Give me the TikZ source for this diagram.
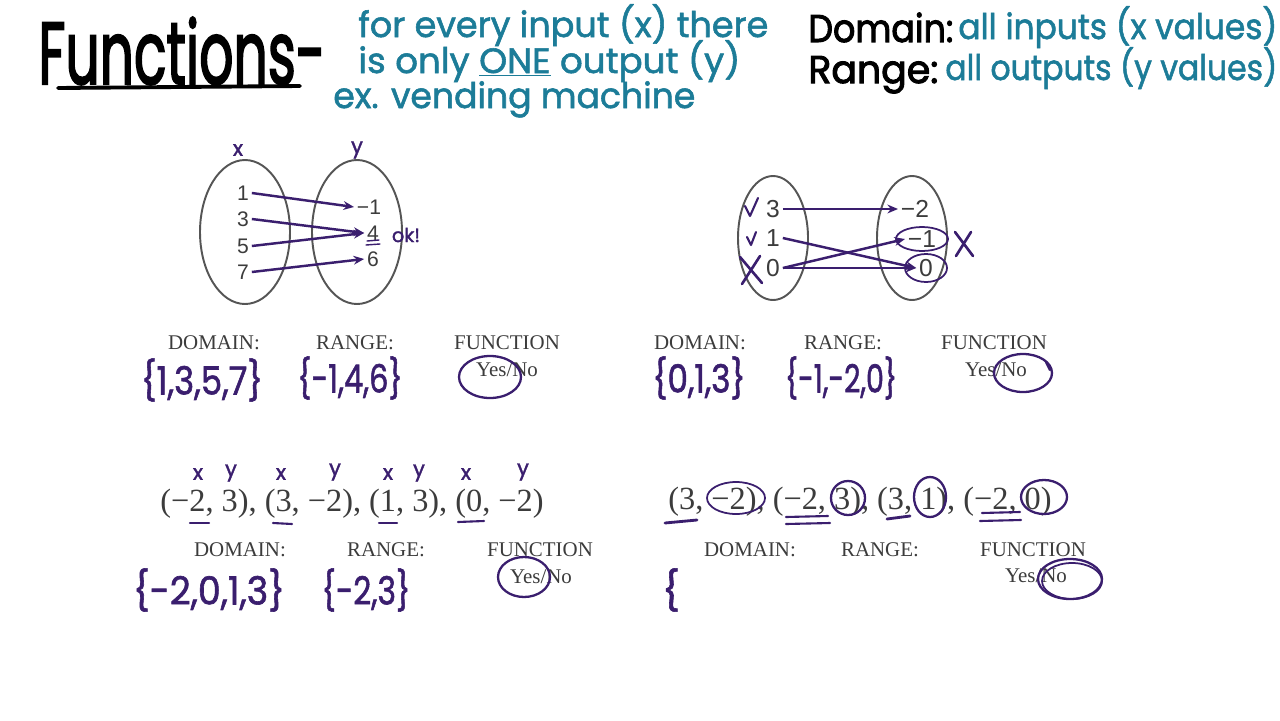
\documentclass[tikz,border=0pt]{standalone}
\usepackage{fontspec}
\setmainfont{Liberation Serif}
\newfontfamily\hand[FakeBold=1.6]{Poppins}
\newfontfamily\handbold[FakeBold=2.6]{Poppins}
\newfontfamily\sansnum{Liberation Sans}
\usetikzlibrary{arrows.meta}
\definecolor{pur}{HTML}{3A1E6E}
\definecolor{tealink}{HTML}{1C7C98}
\definecolor{ink}{HTML}{3C3C3C}
\definecolor{ellc}{HTML}{555555}
\newdimen\px \px=0.02cm
\newcommand\fw[2]{\resizebox{#1\px}{\height}{#2}}
\begin{document}
\begin{tikzpicture}[x=0.02cm,y=-0.02cm,
  hw/.style={inner sep=0, text=pur, font=\hand\fontsize{22}{24}\selectfont},
  hwsmall/.style={inner sep=0, text=pur, font=\hand\fontsize{12}{13}\selectfont},
  teal/.style={inner sep=0, anchor=base west, text=tealink, font=\hand\fontsize{20}{24}\selectfont},
  blk/.style={inner sep=0, anchor=base west, text=black, font=\handbold\fontsize{22}{26}\selectfont},
  pr/.style={inner sep=0, text=ink, font=\fontsize{11.9}{14}\selectfont},
  pairs/.style={inner sep=0, anchor=base west, text=ink, font=\fontsize{18.4}{22}\selectfont},
  num/.style={inner sep=1.5pt, text=ink, font=\sansnum\fontsize{12}{14}\selectfont},
  numb/.style={inner sep=1.5pt, text=ink, font=\sansnum\fontsize{14}{16}\selectfont},
  ell/.style={draw=ellc, line width=1.1pt},
  arr/.style={draw=pur, line width=1.4pt, -{Stealth[length=6pt,width=5pt]}},
  pen/.style={draw=pur, line width=1.2pt, line cap=round, line join=round},
  ring/.style={draw=pur, line width=1.3pt}]
\useasboundingbox[fill=white] (0,0) rectangle (1280,720);

% ---------- header ----------
\node[blk, font=\handbold\fontsize{50}{52}\selectfont] (title) at (38,84) {\fw{287}{Functions-}};
\draw[black, line width=2.2pt, line cap=round] (58,88) -- (300,86);
\node[teal] (def1) at (358,37) {\fw{410}{for every input (x) there}};
\node[teal] (def2) at (358,73) {\fw{382}{is only \underline{ONE} output (y)}};
\node[teal] (def3) at (333,108) {\fw{362}{ex. vending machine}};
\node[blk] (domw) at (808,42) {\fw{145}{Domain:}};
\node[teal] (domd) at (958,39) {\fw{319}{all inputs (x values)}};
\node[blk] (rngw) at (808,83) {\fw{130}{Range:}};
\node[teal] (rngd) at (945,80) {\fw{332}{all outputs (y values)}};

% ---------- mapping 1 ----------
\node[hwsmall] (lx1) at (238,150) {x};
\node[hwsmall] (ly1) at (357,150) {y};
\draw[ell] (245,232) ellipse [x radius=45, y radius=72];
\draw[ell] (357,232) ellipse [x radius=45, y radius=72];
\node[num] (a1) at (243,193) {1};
\node[num] (a3) at (243,219) {3};
\node[num] (a5) at (243,246) {5};
\node[num] (a7) at (243,272) {7};
\node[num] (b1) at (369,207) {−1};
\node[num] (b4) at (373,233) {4};
\node[num] (b6) at (373,259) {6};
\draw[arr] (a1.east) -- (b1.west);
\draw[arr] (a3.east) -- (b4.west);
\draw[arr] (a5.east) -- (b4.west);
\draw[arr] (a7.east) -- (b6.west);
\node[hwsmall, font=\hand\fontsize{11}{12}\selectfont] (ok) at (406,235) {ok!};
\draw[pen, line width=0.8pt] (367,241) -- (379,240) (366,245) -- (380,244);

% ---------- mapping 2 ----------
\draw[ell] (773,238) ellipse [x radius=35, y radius=62];
\draw[ell] (912,238) ellipse [x radius=35, y radius=62];
\node[numb] (c3) at (773,209) {3};
\node[numb] (c1) at (773,238) {1};
\node[numb] (c0) at (773,268) {0};
\node[numb] (d2) at (915,209) {−2};
\node[numb] (d1) at (922,239) {−1};
\node[numb] (d0) at (926,268) {0};
\draw[arr] (c3.east) -- (d2.west);
\draw[arr] (c1.east) -- (d0.west);
\draw[arr] (c0.east) -- (d1.west);
\draw[arr] (c0.east) -- (d0.west);
\draw[ring, line width=1pt] (922,239) ellipse [x radius=26, y radius=12];
\draw[ring, line width=1pt] (926,268) ellipse [x radius=21, y radius=14];
\draw[pen] (745,206) -- (750,216) -- (758,198);
\draw[pen] (747,237) -- (751,245) -- (756,232);
\draw[pen, line width=1.5pt] (740,257) -- (762,283) (742,284) -- (760,256);
\draw[pen, line width=1.5pt] (955,232) -- (973,256) (956,256) -- (971,232);

% ---------- row 1 labels ----------
\node[pr] (dl1) at (214,343) {DOMAIN:};
\node[pr] (rl1) at (355,343) {RANGE:};
\node[pr] (fl1) at (507,343) {FUNCTION};
\node[pr] (yn1) at (507,370) {Yes/No};
\draw[ring] (490,377) ellipse [x radius=31, y radius=21];
\node[hw] (dv1) at (202,380) {\fw{122}{\{1,3,5,7\}}};
\node[hw] (rv1) at (350,378) {\fw{105}{\{-1,4,6\}}};

\node[pr] (dl2) at (700,343) {DOMAIN:};
\node[pr] (rl2) at (843,343) {RANGE:};
\node[pr] (fl2) at (994,343) {FUNCTION};
\node[pr] (yn2) at (996,370) {Yes/No};
\draw[ring] (1023,373) ellipse [x radius=29, y radius=19];
\draw[pen, line width=1.3pt] (1046,362) -- (1050,370);
\node[hw] (dv2) at (699,378) {\fw{93}{\{0,1,3\}}};
\node[hw] (rv2) at (841,378) {\fw{112}{\{-1,-2,0\}}};

% ---------- row 2 left ----------
\node[pairs] (pl) at (160,511) {(−2, 3), (3, −2), (1, 3), (0, −2)};
\node[hwsmall] (x1) at (198,474) {x};
\node[hwsmall] (y1) at (231,473) {y};
\node[hwsmall] (x2) at (281,474) {x};
\node[hwsmall] (y2) at (335,472) {y};
\node[hwsmall] (x3) at (388,474) {x};
\node[hwsmall] (y3) at (419,473) {y};
\node[hwsmall] (x4) at (466,474) {x};
\node[hwsmall] (y4) at (523,472) {y};
\draw[pen] (190,523) -- (209,523);
\draw[pen] (273,523) -- (292,524);
\draw[pen] (379,523) -- (397,523);
\draw[pen] (458,522) -- (484,521);
\node[pr] (dl3) at (240,550) {DOMAIN:};
\node[pr] (rl3) at (386,550) {RANGE:};
\node[pr] (fl3) at (540,550) {FUNCTION};
\node[pr] (yn3) at (541,577) {Yes/No};
\draw[ring] (524,577) ellipse [x radius=26, y radius=20];
\node[hw] (dv3) at (209,590) {\fw{152}{\{-2,0,1,3\}}};
\node[hw] (rv3) at (366,590) {\fw{89}{\{-2,3\}}};

% ---------- row 2 right ----------
\node[pairs] (pr2) at (668,509) {(3, −2), (−2, 3), (3, 1), (−2, 0)};
\draw[ring, line width=1pt] (736,498) ellipse [x radius=29, y radius=16];
\draw[ring] (848,498) ellipse [x radius=17, y radius=17];
\draw[ring] (930,497) ellipse [x radius=16, y radius=20];
\draw[ring] (1044,497) ellipse [x radius=23, y radius=17];
\draw[pen, line width=1.6pt] (665,523) -- (697,520);
\draw[pen] (786,517) -- (828,516) (786,524) -- (830,523);
\draw[pen, line width=1.6pt] (887,519) -- (910,516);
\draw[pen] (982,513) -- (1020,512) (980,521) -- (1021,520);
\node[pr] (dl4) at (750,550) {DOMAIN:};
\node[pr] (rl4) at (880,550) {RANGE:};
\node[pr] (fl4) at (1033,550) {FUNCTION};
\node[pr] (yn4) at (1036,576) {Yes/No};
\draw[ring] (1070,579) ellipse [x radius=32, y radius=20];
\draw[ring, line width=1pt] (1072,581) ellipse [x radius=30, y radius=18];
\node[hw] (dv4) at (671,590) {\{};
\end{tikzpicture}
\end{document}
